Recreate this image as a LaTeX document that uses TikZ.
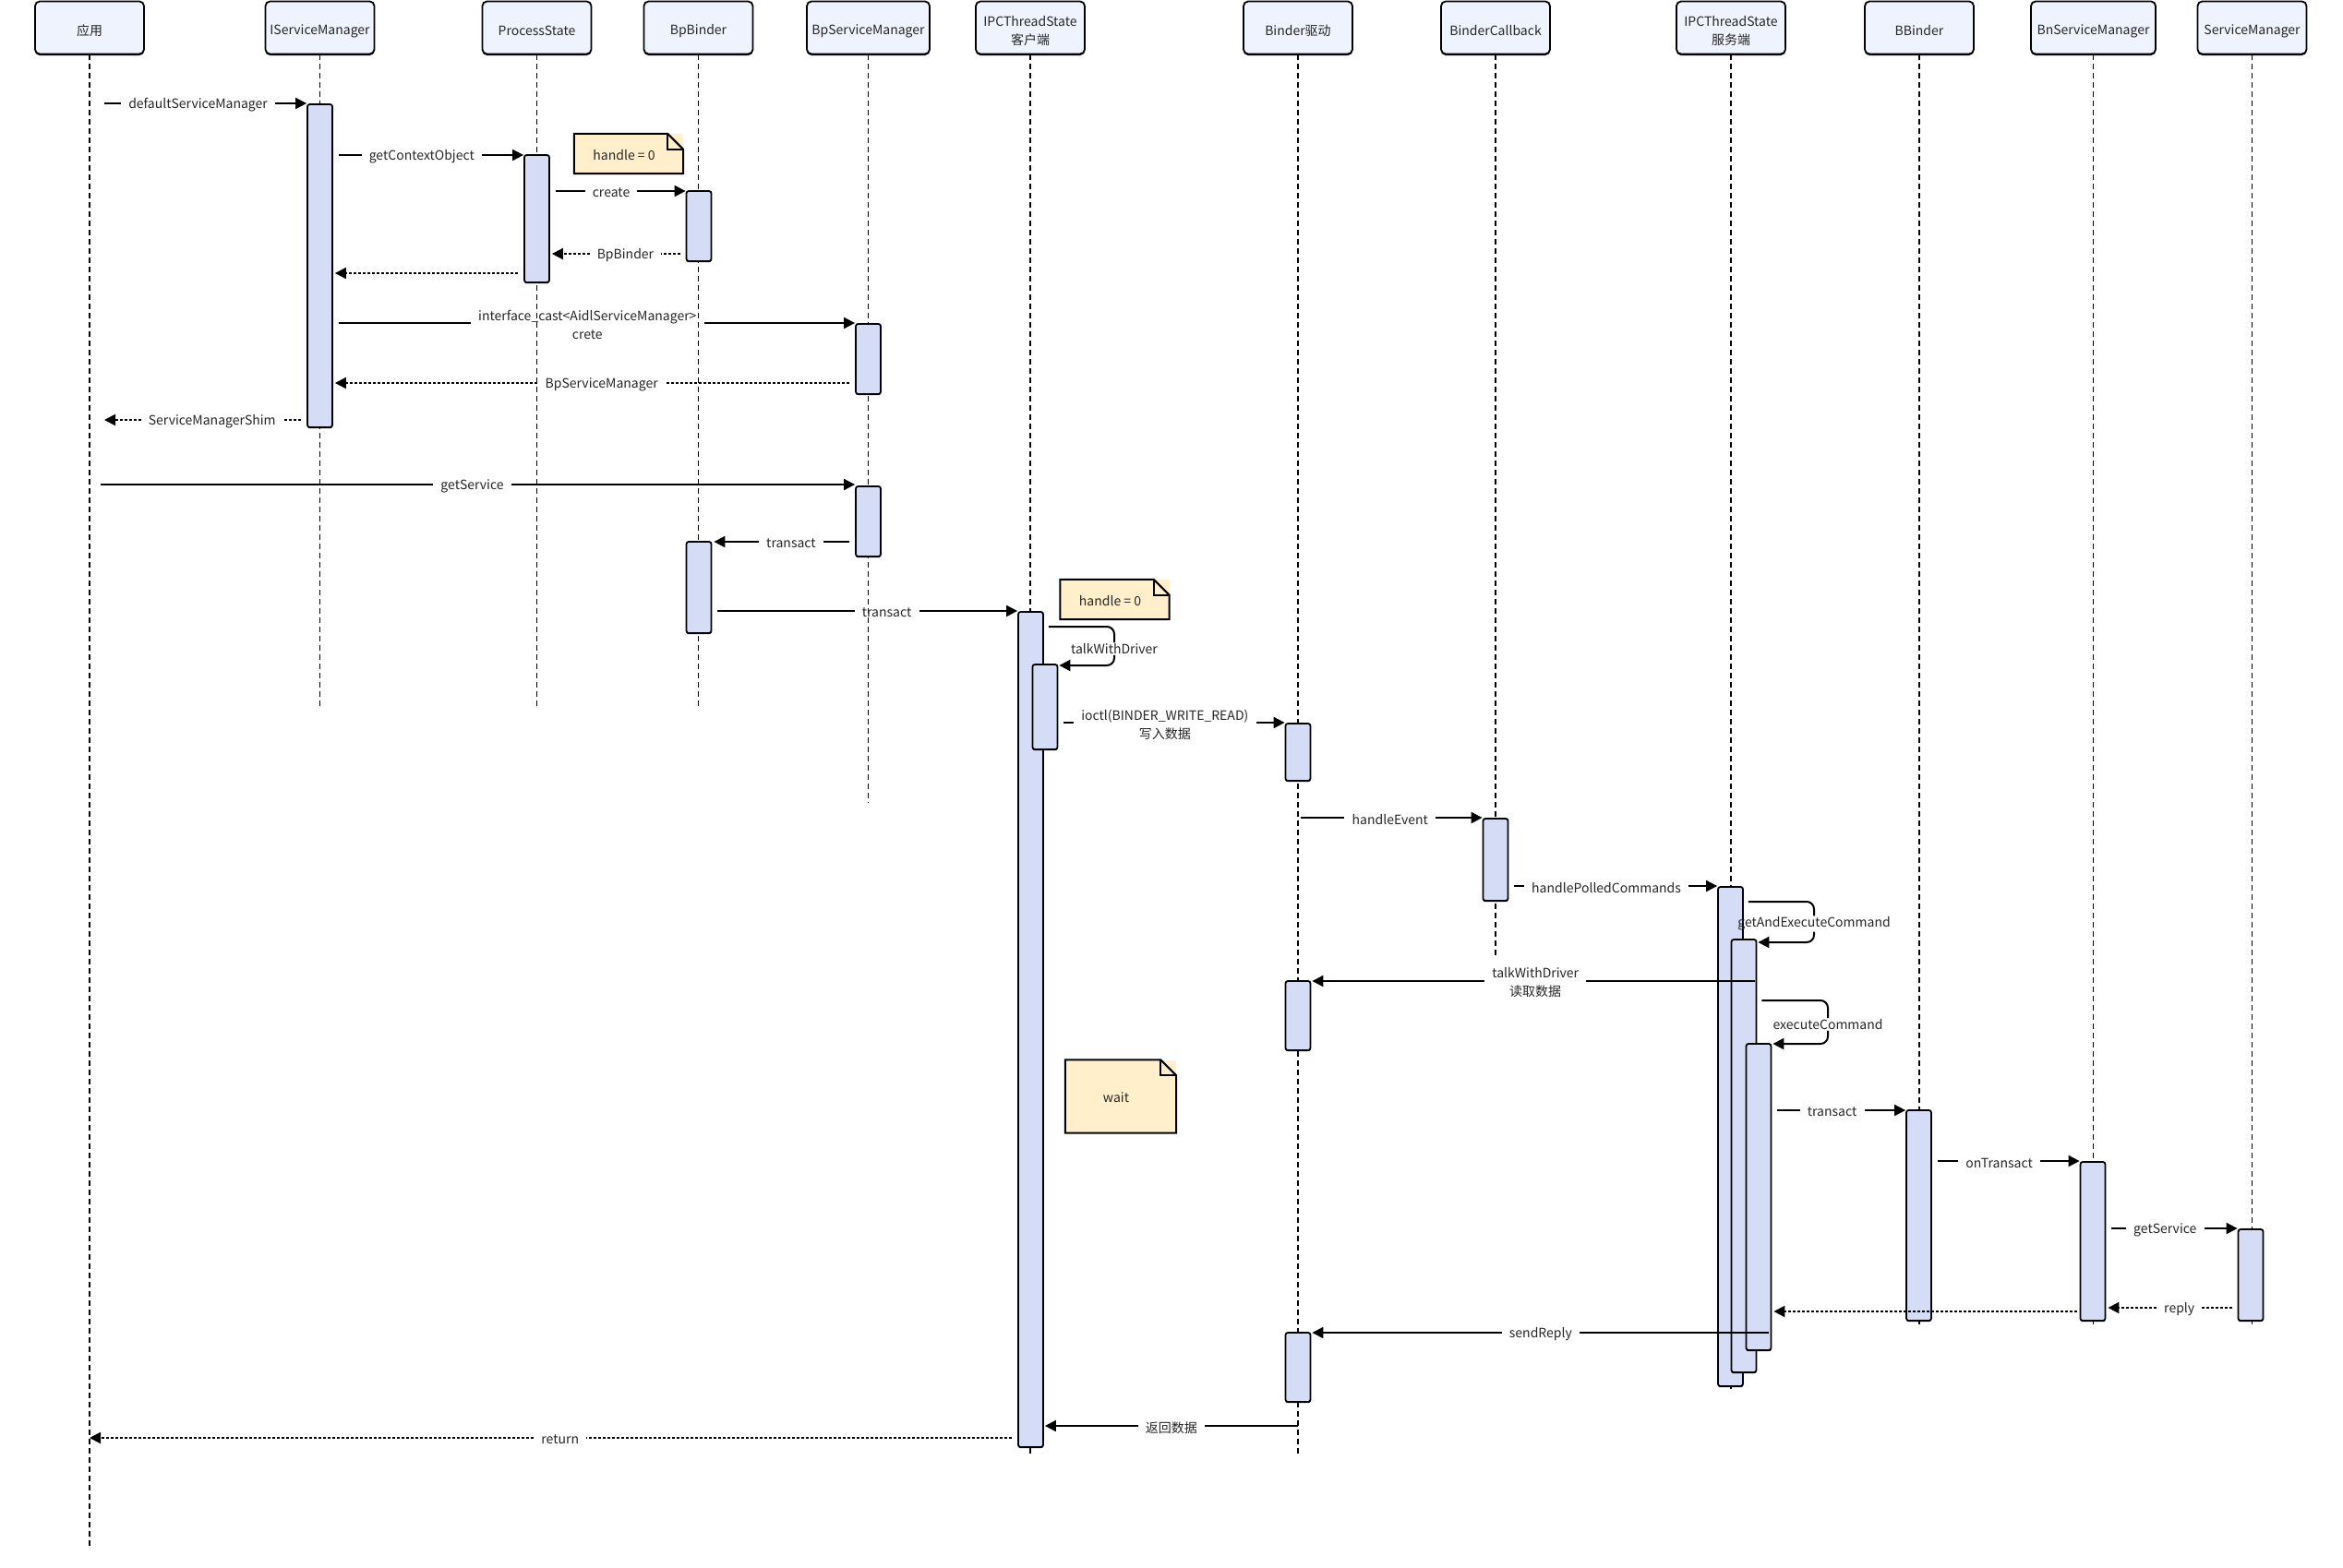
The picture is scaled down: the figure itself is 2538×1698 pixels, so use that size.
\documentclass[tikz,border=0pt]{standalone}
\usepackage{fontspec}
\setmainfont{Noto Sans CJK SC}
\usetikzlibrary{arrows.meta,calc,shadows}
\definecolor{hdrfill}{HTML}{EEF3FE}
\definecolor{barfill}{HTML}{D5DCF5}
\definecolor{notefill}{HTML}{FFF0CB}
\definecolor{txt}{HTML}{262626}
% #1 ratio, #2 name, #3 start, #4 end, #5 style, #6 text, #7 source centre
\newcommand\sqR[7][.5]{\coordinate (#2s) at (#7 |- #4);
  \node[lbl] (#2) at ($(#2s)!#1!(#4)$) {#6};
  \draw[#5] (#3) -- (#2.west |- #3); \draw[#5,tip] (#2.east |- #3) -- (#4);}
\newcommand\sqL[7][.5]{\coordinate (#2s) at (#7 |- #4);
  \node[lbl] (#2) at ($(#2s)!#1!(#4)$) {#6};
  \draw[#5] (#3) -- (#2.east |- #3); \draw[#5,tip] (#2.west |- #3) -- (#4);}
\begin{document}
\begin{tikzpicture}[x=1pt,y=-1pt, font=\fontsize{14}{20}\selectfont, text=txt,
 hdr/.style={draw=black, line width=1.8pt, fill=hdrfill, rounded corners=5pt, minimum width=118pt, minimum height=57pt, inner sep=0pt,
   drop shadow={shadow xshift=0pt, shadow yshift=-1.5pt, fill=black, opacity=1}},
 htxt/.style={align=center, yshift=-3.5pt, inner sep=0pt},
 life/.style={line width=1.5pt, dash pattern=on 6pt off 4pt},
 bar/.style={draw=black, line width=1.8pt, fill=barfill, rounded corners=2.5pt, minimum width=27pt, inner sep=0pt,
   drop shadow={shadow xshift=0pt, shadow yshift=-1.2pt, fill=black, opacity=1}},
 msg/.style={line width=2pt},
 tip/.style={-{Triangle[length=12pt,width=12pt]}},
 ret/.style={line width=2pt, dash pattern=on 3pt off 2pt},
 lbl/.style={inner xsep=8pt, inner ysep=1pt, align=center, yshift=-2pt},
 note/.style={fill=notefill, minimum width=118pt, minimum height=43pt, inner sep=0pt},
 ntxt/.style={xshift=-5pt, yshift=-1.5pt, inner sep=0pt},
 notebd/.style={draw=black, line width=2pt, line join=miter},
]
\fill[white] (0,0) rectangle (2538,1698);
\useasboundingbox (0,0) rectangle (2538,1698);

% headers
\node[hdr, label={[htxt]center:应用}] (h1) at (97,30) {};
\node[hdr, label={[htxt]center:IServiceManager}] (h2) at (346.5,30) {};
\node[hdr, label={[htxt]center:ProcessState}] (h3) at (581.5,30) {};
\node[hdr, label={[htxt]center:BpBinder}] (h4) at (756.5,30) {};
\node[hdr, minimum width=133pt, label={[htxt]center:BpServiceManager}] (h5) at (940.5,30) {};
\node[hdr, label={[htxt]center:IPCThreadState\\客户端}] (h6) at (1116,30) {};
\node[hdr, label={[htxt]center:Binder驱动}] (h7) at (1406,30) {};
\node[hdr, label={[htxt]center:BinderCallback}] (h8) at (1620,30) {};
\node[hdr, label={[htxt]center:IPCThreadState\\服务端}] (h9) at (1875,30) {};
\node[hdr, label={[htxt]center:BBinder}] (h10) at (2079,30) {};
\node[hdr, minimum width=135pt, label={[htxt]center:BnServiceManager}] (h11) at (2267.5,30) {};
\node[hdr, label={[htxt]center:ServiceManager}] (h12) at (2439.5,30) {};

% lifelines
\draw[life] (h1.south) -- (h1.south |- 0,1678);
\draw[life] (h2.south) -- (h2.south |- 0,767);
\draw[life] (h3.south) -- (h3.south |- 0,767);
\draw[life] (h4.south) -- (h4.south |- 0,767);
\draw[life] (h5.south) -- (h5.south |- 0,870);
\draw[life] (h6.south) -- (h6.south |- 0,1575);
\draw[life] (h7.south) -- (h7.south |- 0,1575);
\draw[life] (h8.south) -- (h8.south |- 0,1036);
\draw[life] (h9.south) -- (h9.south |- 0,1508);
\draw[life] (h10.south) -- (h10.south |- 0,1438);
\draw[life] (h11.south) -- (h11.south |- 0,1438);
\draw[life] (h12.south) -- (h12.south |- 0,1438);

% activation bars
\node[bar, minimum height=350pt] (bISM) at (346.5,288) {};
\node[bar, minimum height=138pt] (bPS) at (581.5,237) {};
\node[bar, minimum height=76pt] (bBp1) at (757,245) {};
\node[bar, minimum height=76pt] (bSMp1) at (940.5,389) {};
\node[bar, minimum height=76pt] (bSMp2) at (940.5,565) {};
\node[bar, minimum height=99pt] (bBp2) at (757,636.5) {};
\node[bar, minimum height=905pt] (bIPCc) at (1116.5,1115.5) {};
\node[bar, minimum height=92pt] (bIPCc2) at (1132,766) {};
\node[bar, minimum height=62pt] (bDrv1) at (1406,815) {};
\node[bar, minimum height=89pt] (bCB) at (1620,931.5) {};
\node[bar, minimum height=541pt] (bIPCs1) at (1874.5,1231.5) {};
\node[bar, minimum height=469pt] (bIPCs2) at (1889,1252.5) {};
\node[bar, minimum height=332pt] (bIPCs3) at (1905,1297) {};
\node[bar, minimum height=75pt] (bDrv2) at (1406,1100.5) {};
\node[bar, minimum height=228pt] (bBB) at (2078.5,1317) {};
\node[bar, minimum height=172pt] (bBnSM) at (2267,1345) {};
\node[bar, minimum height=99pt] (bSM) at (2438,1381.5) {};
\node[bar, minimum height=75pt] (bDrv3) at (1406,1481.5) {};

% notes
\node[note, label={[ntxt]center:handle = 0}] (n1) at (681,166.5) {};
\node[note, label={[ntxt]center:handle = 0}] (n2) at (1207.5,649.5) {};
\node[note, minimum height=79pt, minimum width=120pt, label={[ntxt]center:wait}] (n3) at (1214,1188) {};
\foreach \n in {n1,n2,n3}{
  \draw[notebd] (\n.north west) -- ([xshift=-17pt]\n.north east) -- ([yshift=-17pt]\n.north east) -- (\n.south east) -- (\n.south west) -- cycle;
  \draw[notebd] ([xshift=-17pt]\n.north east) -- ([xshift=-17pt,yshift=-17pt]\n.north east) -- ([yshift=-17pt]\n.north east);
}

% messages
\coordinate (a1) at ([xshift=16pt]h1.south |- 0,112);
\coordinate (b1) at (bISM.west |- 0,112);
\sqR{l1}{a1}{b1}{msg}{defaultServiceManager}{h1}

\coordinate (a2) at ([xshift=6pt]bISM.east |- 0,168);
\coordinate (b2) at (bPS.west |- 0,168);
\sqR{l2}{a2}{b2}{msg}{getContextObject}{bISM}

\coordinate (a3) at ([xshift=6pt]bPS.east |- 0,207);
\coordinate (b3) at (bBp1.west |- 0,207);
\sqR{l3}{a3}{b3}{msg}{create}{bPS}

\coordinate (a4) at ([xshift=-6pt]bBp1.west |- 0,275);
\coordinate (b4) at ([xshift=2pt]bPS.east |- 0,275);
\sqL{l4}{a4}{b4}{ret}{BpBinder}{bBp1}

\coordinate (a5) at ([xshift=-6pt]bPS.west |- 0,296);
\coordinate (b5) at ([xshift=2pt]bISM.east |- 0,296);
\draw[ret,tip] (a5) -- (b5);

\coordinate (a6) at ([xshift=6pt]bISM.east |- 0,350);
\coordinate (b6) at (bSMp1.west |- 0,350);
\sqR{l6}{a6}{b6}{msg}{interface\_cast<AidlServiceManager>\\crete}{bISM}

\coordinate (a7) at ([xshift=-6pt]bSMp1.west |- 0,415);
\coordinate (b7) at ([xshift=2pt]bISM.east |- 0,415);
\sqL{l7}{a7}{b7}{ret}{BpServiceManager}{bSMp1}

\coordinate (a8) at ([xshift=-6pt]bISM.west |- 0,455);
\coordinate (b8) at ([xshift=16pt]h1.south |- 0,455);
\sqL{l8}{a8}{b8}{ret}{ServiceManagerShim}{bISM}

\coordinate (a9) at ([xshift=12pt]h1.south |- 0,525);
\coordinate (b9) at (bSMp2.west |- 0,525);
\sqR{l9}{a9}{b9}{msg}{getService}{h1}

\coordinate (a10) at ([xshift=-6pt]bSMp2.west |- 0,587);
\coordinate (b10) at ([xshift=2pt]bBp2.east |- 0,587);
\sqL{l10}{a10}{b10}{msg}{transact}{bSMp2}

\coordinate (a11) at ([xshift=6pt]bBp2.east |- 0,662);
\coordinate (b11) at (bIPCc.west |- 0,662);
\sqR[.59]{l11}{a11}{b11}{msg}{transact}{bBp2}

% self call talkWithDriver
\coordinate (a12) at ([xshift=5pt]bIPCc.east |- 0,679);
\coordinate (b12) at ([xshift=1pt]bIPCc2.east |- 0,721);
\node[lbl, inner xsep=2pt] (l12) at (1207,701) {talkWithDriver};
\draw[msg, rounded corners=8pt] (a12) -- (a12 -| l12) -- (l12.north);
\draw[msg, tip, rounded corners=8pt] (l12.south) -- (b12 -| l12) -- (b12);

\coordinate (a13) at ([xshift=6pt]bIPCc2.east |- 0,783);
\coordinate (b13) at (bDrv1.west |- 0,783);
\sqR{l13}{a13}{b13}{msg}{ioctl(BINDER\_WRITE\_READ)\\写入数据}{bIPCc2}

\coordinate (a14) at ([xshift=3pt]h7.south |- 0,886);
\coordinate (b14) at (bCB.west |- 0,886);
\sqR{l14}{a14}{b14}{msg}{handleEvent}{h7}

\coordinate (a15) at ([xshift=6pt]bCB.east |- 0,960);
\coordinate (b15) at (bIPCs1.west |- 0,960);
\sqR{l15}{a15}{b15}{msg}{handlePolledCommands}{bCB}

% self call getAndExecuteCommand
\coordinate (a16) at ([xshift=5pt]bIPCs1.east |- 0,977);
\coordinate (b16) at ([xshift=1pt]bIPCs2.east |- 0,1021);
\node[lbl, inner xsep=2pt] (l16) at (1965,999) {getAndExecuteCommand};
\draw[msg, rounded corners=8pt] (a16) -- (a16 -| l16) -- (l16.north);
\draw[msg, tip, rounded corners=8pt] (l16.south) -- (b16 -| l16) -- (b16);

\coordinate (a17) at ([xshift=-2pt]bIPCs2.east |- 0,1063);
\coordinate (b17) at ([xshift=1pt]bDrv2.east |- 0,1063);
\sqL{l17}{a17}{b17}{msg}{talkWithDriver\\读取数据}{bIPCs3}

% self call executeCommand
\coordinate (a18) at ([xshift=5pt]bIPCs2.east |- 0,1084);
\coordinate (b18) at ([xshift=1pt]bIPCs3.east |- 0,1131);
\node[lbl, inner xsep=2pt] (l18) at (1980,1108) {executeCommand};
\draw[msg, rounded corners=8pt] (a18) -- (a18 -| l18) -- (l18.north);
\draw[msg, tip, rounded corners=8pt] (l18.south) -- (b18 -| l18) -- (b18);

\coordinate (a19) at ([xshift=6pt]bIPCs3.east |- 0,1203);
\coordinate (b19) at (bBB.west |- 0,1203);
\sqR{l19}{a19}{b19}{msg}{transact}{bIPCs3}

\coordinate (a20) at ([xshift=6pt]bBB.east |- 0,1258);
\coordinate (b20) at (bBnSM.west |- 0,1258);
\sqR{l20}{a20}{b20}{msg}{onTransact}{bBB}

\coordinate (a21) at ([xshift=6pt]bBnSM.east |- 0,1331);
\coordinate (b21) at (bSM.west |- 0,1331);
\sqR{l21}{a21}{b21}{msg}{getService}{bBnSM}

\coordinate (a22) at ([xshift=-6pt]bSM.west |- 0,1417);
\coordinate (b22) at ([xshift=2pt]bBnSM.east |- 0,1417);
\sqL{l22}{a22}{b22}{ret}{reply}{bSM}

\coordinate (a23) at ([xshift=-3pt]bBnSM.west |- 0,1421);
\coordinate (b23) at ([xshift=2pt]bIPCs3.east |- 0,1421);
\draw[ret,tip] (a23) -- (b23);

\coordinate (a24) at ([xshift=-3pt]bIPCs3.east |- 0,1444);
\coordinate (b24) at ([xshift=1pt]bDrv3.east |- 0,1444);
\sqL{l24}{a24}{b24}{msg}{sendReply}{a24}

\coordinate (a25) at (h7.south |- 0,1545);
\coordinate (b25) at ([xshift=1pt]bIPCc.east |- 0,1545);
\sqL{l25}{a25}{b25}{msg}{返回数据}{h7}

\coordinate (a26) at ([xshift=-6pt]bIPCc.west |- 0,1558);
\coordinate (b26) at (h1.south |- 0,1558);
\sqL{l26}{a26}{b26}{ret}{return}{bIPCc}
\end{tikzpicture}
\end{document}
